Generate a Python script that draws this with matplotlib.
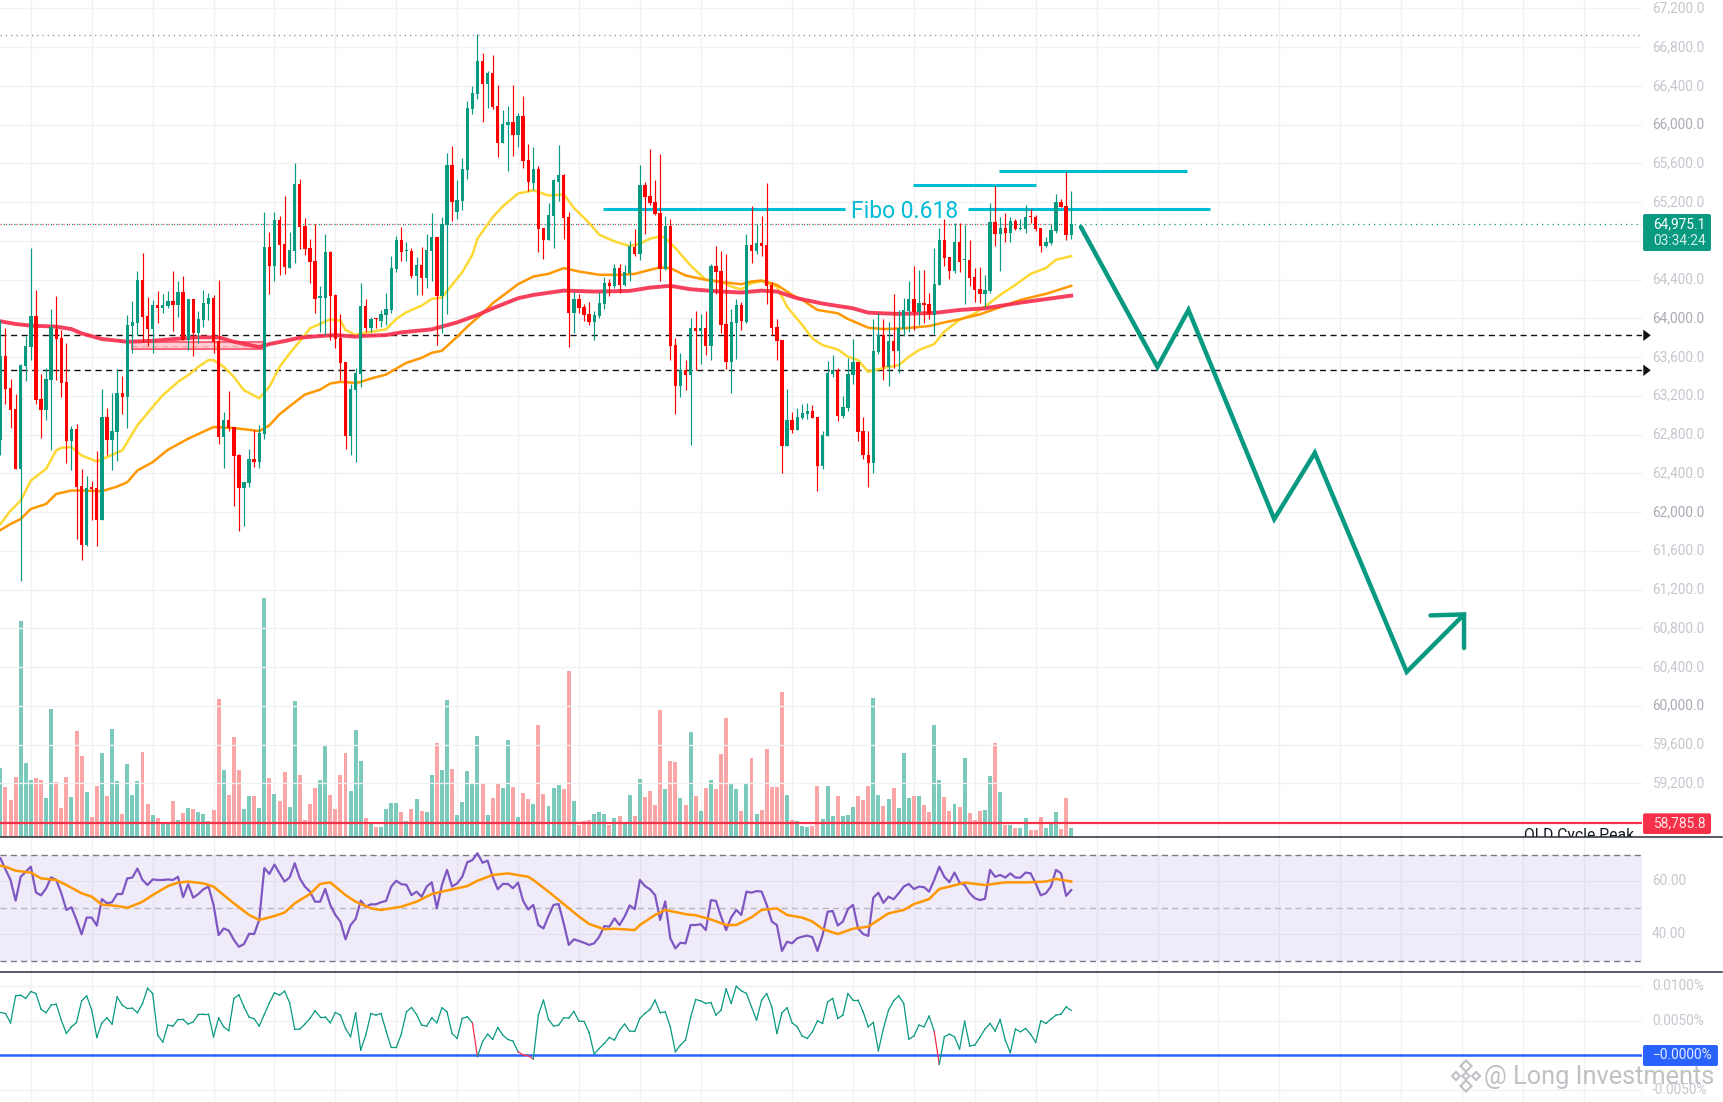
import matplotlib
matplotlib.use("Agg")
import matplotlib.pyplot as plt
from matplotlib.patches import Rectangle, Polygon, FancyBboxPatch
from matplotlib.transforms import ScaledTranslation

plt.rcParams['font.family'] = ['Roboto', 'DejaVu Sans']

# ---- candles: open, high, low, close ----
opens = [62746,63610,63278,63061,62443,63506,63703,64024,63164,63050,63361,63889,63796,63340,62729,62853,62273,61662,62249,62253,61921,62978,62739,62826,63226,63185,63920,63955,64397,64024,63889,64138,64107,64128,64179,64138,64273,63775,64200,63848,63983,64148,64210,63765,62771,62947,62874,62584,62253,62304,62543,62512,62802,64739,64542,65018,64770,64521,64697,65391,64956,64728,64594,64214,64210,64687,64242,63796,63547,62781,63257,
63430,64127,63900,63996,63972,64034,64086,64511,64811,64690,64697,64438,64552,64418,64697,64842,64231,64967,65578,65101,65215,65526,66158,66314,66656,66417,66531,66190,65806,65993,66024,65889,66086,65630,65392,65537,64936,64811,65060,65412,65475,65050,64055,64200,64117,64045,63962,64024,64148,64366,64335,64521,64345,64469,64739,64666,65381,65267,65205,65091,64511,64956,63723,63298,63464,63412,63900,63868,63900,63713,64542,
64490,63944,63547,63951,64138,63962,64760,64697,64780,64760,64345,63910,63775,62677,62946,62843,62967,63008,63040,62977,62480,62780,63423,63464,62988,63071,63413,63547,62832,62594,62511,63651,63827,63495,63765,63661,63889,64076,64200,64065,64159,64148,64034,64345,64811,64635,64490,64791,64597,64604,64428,64304,64252,64283,64998,64874,64936,64884,65008,64925,64925,65050,65050,64936,64749,64780,64905,65205,65164,64863]
highs = [63983,63900,63371,63223,63527,63817,64725,64293,63423,63482,64097,64228,63879,63748,62884,62912,62446,62377,62325,62626,63275,63071,63230,63475,63402,64034,64179,64490,64677,64224,64190,64283,64252,64283,64490,64387,64438,64200,64200,64076,64293,64259,64242,64397,63030,63247,62878,62601,62315,62646,62843,62895,65101,64894,65101,65053,65267,64894,65599,65443,65039,64822,64977,64335,64873,64697,64252,64045,63547,63320,63492,
64362,64197,64017,64007,64086,64259,64646,64853,64946,64791,64725,64635,64739,64874,65091,64842,65050,65709,65775,65423,65651,66241,66397,66936,66739,66552,66718,66407,66148,66190,66407,66117,66293,65796,65765,65568,64936,65195,65433,65785,65485,65101,64273,64252,64148,64169,64076,64273,64428,64407,64563,64563,64552,64801,64925,65578,65412,65744,65423,65692,65060,65029,63796,63640,63568,64003,64076,64045,64076,64563,64749,
64697,64666,64096,64200,64169,64874,65164,64977,65060,65392,64376,63993,63775,63267,63029,63071,63112,63122,63102,62977,62832,63558,63620,63485,63195,63589,63786,63547,62977,62832,63993,64055,63993,63962,64252,64086,64210,64387,64542,64500,64500,64262,64729,64936,65029,64635,64988,64988,64967,64811,64521,64532,64449,65195,65361,65050,65091,65050,65029,65029,65174,65133,65070,64936,64843,64977,65288,65236,65506,65309]
lows = [62584,63116,62867,62443,61286,63354,63568,63119,62764,62947,62636,63364,63188,62505,62429,61717,61507,61652,61918,61652,61921,62584,62429,62532,63016,62867,63637,63827,63758,63713,63644,63948,64059,64110,63872,64017,63775,63672,63610,63748,63914,63983,63644,62698,62453,62833,62066,61800,61852,62256,62470,62456,62750,64252,64387,64449,64459,64521,64570,64718,64656,64366,64055,63858,63824,63775,63689,63361,62646,62594,62512,
63292,63858,63858,63900,63910,63931,64058,64483,64594,64594,64418,64241,64241,64314,64387,63723,63844,64045,65008,65029,65122,65443,66107,66262,66024,66169,66158,65661,65806,65516,65671,65765,65547,65309,65329,64687,64615,64811,64728,65215,64822,63703,63848,64051,63972,63931,63775,64003,64100,64231,64317,64262,64335,64387,64646,64604,64874,65174,65070,64387,64500,63568,63008,63185,63257,62697,63464,63527,63620,63568,64252,
63851,63475,63226,63578,63879,63951,64573,64666,64646,64148,63827,63568,62407,62677,62812,62843,62957,62957,62967,62221,62449,62780,63392,62936,62967,63040,63319,62729,62552,62262,62407,63630,63361,63299,63485,63433,63817,63858,63879,63931,63951,63993,63837,64345,64542,64407,64469,64480,64148,64335,64169,64159,64117,64262,64749,64490,64791,64791,64915,64915,64884,64988,64905,64687,64739,64760,64884,65153,64811,64822]
closes = [63610,63271,63054,62443,63516,63713,64024,63154,63050,63371,63914,63789,63333,62729,62853,62263,61662,62253,62242,61921,62978,62739,62833,63226,63185,63931,63958,64397,64014,63889,64138,64107,64138,64179,64138,64273,63775,64200,63844,63993,64159,64210,63751,62771,62947,62864,62574,62253,62315,62543,62512,62812,64739,64542,65018,64759,64525,64708,65391,64946,64718,64583,64200,64221,64687,64231,63786,63537,62781,63268,63434,
64127,63900,63993,63989,64045,64096,64521,64811,64687,64697,64438,64552,64418,64708,64842,64231,64977,65578,65205,65226,65537,66169,66324,66656,66417,66531,66179,65806,66003,66024,65889,66086,65620,65402,65537,64925,64811,65070,65423,65475,65039,64055,64200,64107,64034,63962,64034,64158,64366,64335,64521,64345,64480,64749,64666,65381,65257,65195,65081,64511,64956,63713,63298,63464,63412,63900,63868,63900,63713,64542,64480,
63934,63547,63962,64138,63972,64760,64697,64780,64749,64335,63900,63765,62677,62946,62843,62977,63019,63040,62967,62480,62791,63433,63464,62988,63081,63423,63547,62822,62584,62511,63661,63827,63495,63765,63661,63900,64086,64200,64065,64159,64138,64045,64355,64811,64625,64490,64791,64583,64604,64418,64293,64252,64293,64998,64874,64936,64884,65008,64925,64936,65050,65043,64925,64749,64791,64915,65205,65153,64863,64977]
# ---- volume (relative units) ----
volume = [69,50,37,60,216,74,57,59,57,39,128,55,29,60,40,106,81,45,20,51,84,41,108,56,23,73,42,56,85,33,22,19,13,13,36,17,24,29,28,25,23,16,27,138,67,42,100,67,28,41,41,29,239,59,43,36,65,30,136,62,17,33,49,57,92,42,28,62,84,46,107,76,19,13,10,10,28,34,34,25,16,28,38,26,25,62,94,67,137,68,22,35,66,54,101,54,22,39,54,49,97,50,20,44,38,33,112,
43,31,49,52,48,166,36,12,16,17,23,25,23,12,19,21,14,42,21,58,40,46,32,127,48,76,75,39,32,105,41,26,49,57,48,83,119,53,48,26,53,79,23,27,88,50,50,145,42,17,16,11,10,11,51,18,51,21,41,21,22,30,41,37,51,139,42,31,38,49,29,84,39,41,41,32,25,112,57,40,26,33,30,79,24,17,26,27,61,94,45,12,12,9,9,19,7,7,20,9,14,25,8,39,9]
# ---- moving averages: candle index and value ----
yellow_idx = [0,2,4,6,9,11,12,14,16,19,21,24,27,30,32,35,37,39,41,42,44,46,48,51,53,55,57,60,61,62,65,67,68,70,71,73,76,78,80,83,85,87,91,93,94,97,99,102,104,105,108,111,113,116,118,121,124,126,128,130,131,133,136,139,142,144,146,148,150,153,155,158,160,162,165,167,169,171,174,177,179,181,184,186,189,192,194,197,200,203,206,208,211]
yellow_val = [61876,62014,62118,62325,62446,62636,62664,62670,62584,62522,62567,62636,62895,63085,63206,63344,63413,63499,63568,63568,63499,63395,63257,63175,63292,63499,63637,63827,63896,63920,63989,63976,63879,63827,63844,63860,63886,63993,64062,64131,64200,64214,64476,64656,64822,65043,65157,65288,65309,65323,65267,65281,65140,64985,64863,64794,64746,64770,64822,64846,64829,64725,64545,64397,64380,64328,64300,64362,64383,64328,64120,63931,63792,63723,63678,63603,63568,63447,63488,63516,63603,63672,63734,63862,63983,64052,64120,64241,64345,64459,64518,64604,64642]
orange_idx = [0,2,4,6,9,11,14,16,20,23,25,27,30,33,37,42,46,51,53,55,57,60,63,65,67,70,71,73,76,78,80,83,85,87,90,92,95,97,102,105,108,111,114,118,122,125,128,130,132,135,139,143,146,148,150,153,156,158,161,165,167,171,174,178,183,186,189,193,197,201,206,211]
orange_val = [61814,61876,61928,62032,62083,62187,62222,62222,62215,62263,62308,62429,62515,62643,62757,62878,62867,62836,62895,63009,63092,63213,63264,63327,63344,63333,63343,63378,63419,63481,63540,63592,63644,63665,63810,63913,64051,64155,64352,64431,64459,64518,64483,64449,64449,64459,64500,64525,64518,64442,64397,64369,64352,64380,64390,64345,64241,64190,64086,64052,63993,63903,63889,63896,63920,63958,63990,64041,64114,64190,64252,64335]
red_idx = [0,3,6,11,14,16,20,25,30,35,39,43,46,51,53,56,59,63,66,70,71,76,79,85,90,94,97,102,105,111,117,124,128,132,136,142,146,150,153,157,162,168,171,177,184,189,194,201,211]
red_val = [63969,63941,63924,63914,63889,63844,63786,63758,63768,63789,63803,63803,63758,63703,63734,63765,63800,63817,63827,63810,63817,63827,63855,63886,63958,64034,64103,64207,64241,64286,64276,64283,64317,64335,64300,64276,64266,64286,64276,64207,64152,64103,64058,64045,64055,64086,64103,64162,64234]
# ---- RSI ----
rsi = [68.7,64.5,60.5,52.7,61.7,63.6,65.5,55.8,54.7,57.3,61.5,60.5,55.5,49.2,50.2,45.4,40.0,46.3,46.3,43.3,53.3,51.7,52.1,55.2,55.2,61.1,61.4,64.8,60.5,58.6,60.7,60.5,60.5,60.7,60.5,61.7,54.0,58.9,53.8,55.2,57.0,58.0,51.1,39.7,42.2,41.4,37.9,35.3,36.3,40.2,40.1,45.4,65.0,62.8,66.3,63.0,59.9,61.5,66.8,61.1,58.0,56.1,52.3,52.3,57.1,51.1,47.3,44.8,38.1,43.5,45.8,52.7,50.4,51.3,51.3,52.1,52.6,58.0,60.2,58.9,58.7,54.8,56.1,54.2,58.0,59.6,49.8,58.6,64.3,58.0,59.2,61.7,67.2,68.0,70.6,67.0,67.8,61.7,57.0,59.0,59.0,57.4,59.5,52.6,49.4,51.1,43.5,
42.2,46.9,51.1,51.4,44.1,36.0,38.1,37.5,36.8,36.0,36.6,39.1,43.1,42.9,46.0,43.5,46.7,50.9,49.5,60.5,58.2,57.0,54.8,45.4,52.4,38.5,34.7,36.8,36.6,43.5,43.5,43.8,41.6,52.9,52.6,46.7,41.6,46.4,49.2,47.3,56.1,55.7,56.3,56.1,51.1,44.8,43.5,33.7,37.2,36.6,38.5,39.1,39.5,38.9,33.7,39.7,48.5,48.8,43.3,44.8,49.5,51.1,42.2,40.1,39.4,53.8,55.7,51.9,54.2,53.2,55.5,58.0,59.0,57.1,58.0,57.8,56.1,60.5,65.5,61.7,59.7,63.3,59.5,58.6,55.5,53.6,52.9,53.4,64.3,61.7,62.4,61.4,63.0,61.4,61.4,63.3,63.0,59.2,54.7,55.5,58.0,64.3,63.0,54.5,56.7]
rsi_ma_idx = [0,1,3,6,8,11,13,16,18,20,23,25,26,28,30,33,35,37,40,42,44,46,49,51,54,56,58,61,63,65,68,70,73,75,79,82,85,87,92,94,97,100,104,105,108,111,114,116,119,121,125,126,129,131,135,137,140,143,145,148,150,153,155,158,160,162,165,168,171,175,178,180,183,185,187,190,194,198,202,206,208,211]
rsi_ma_val = [65.9,65.5,64.0,63.3,61.1,60.5,58.6,55.5,54.2,51.2,50.7,50.0,50.7,52.3,54.8,58.2,59.5,59.9,59.2,58.0,54.8,51.7,47.3,45.4,46.9,48.2,51.7,55.2,59.0,59.6,54.8,52.3,49.8,49.2,50.4,52.3,55.2,56.1,58.2,60.2,62.4,63.0,61.7,60.5,56.1,51.4,46.7,43.9,41.9,42.1,41.6,43.5,47.3,49.2,47.6,47.2,45.6,43.5,43.5,46.4,49.2,49.8,47.3,46.3,44.8,42.0,40.1,42.1,42.9,47.9,49.2,51.4,53.3,57.1,58.0,59.5,58.6,59.6,59.6,59.9,60.9,59.9]
# ---- funding rate, in 1e-5 percent ----
funding = [617,602,467,857,867,819,920,891,665,612,723,737,506,313,409,472,785,857,650,255,467,540,448,843,723,674,679,612,747,968,891,289,188,434,419,515,515,448,482,588,592,592,265,540,409,352,819,872,698,549,525,419,588,756,901,867,925,756,371,376,448,530,641,554,554,467,617,578,385,265,612,72,289,602,578,602,347,111,111,303,626,689,588,434,419,540,467,684,626,313,241,530,554,467,-24,193,303,226,400,289,226,202,48,0,-10,-58,578,
795,515,419,434,540,535,631,491,487,328,14,96,169,255,217,361,448,347,342,530,602,660,795,612,626,409,48,145,217,544,804,785,747,761,578,650,959,747,997,930,891,698,506,795,891,698,313,612,684,467,409,275,241,337,496,458,771,819,530,578,891,795,795,626,409,472,63,385,650,785,857,747,231,275,434,409,564,347,-135,265,303,265,87,491,130,145,255,376,458,347,515,217,34,376,337,385,303,183,496,458,520,578,592,698,645]

assert len(opens) == len(highs) == len(lows) == len(closes) == len(volume) == len(rsi) == len(funding) == 212

# ---- levels and tick labels ----
last_price = 64975.1
ath_level = 66925
support_levels = [63824, 63463]
old_peak = 58785.8
fibo_level = 65129
swing_high_1 = 65371
swing_high_2 = 65523
zone_low, zone_high = 63679, 63758
price_ticks = list(range(59200, 67201, 400))
strong_ticks = [66000, 64000, 62000, 60000]
grid_idx = [6,18,30,42,54,66,78,90,102,114,126,138,156,168,180,192,204,216,228,240,252,264,276,288,300,312]
proj_idx = [212.9, 228.0, 234.1, 251.0, 259.0, 277.1, 288.4]
proj_val = [64943, 63498, 64086, 61927, 62611, 60350, 60943]
head_idx = [281.8, 288.4, 288.4]
head_val = [60933, 60943, 60597]

W, H = 1724, 1102
PANE_R = 1642.0
SEP1, SEP2 = 837.3, 972.3
DX, X0 = 5.075, 0.4
PRICE_PER_PX = 10.323
GREEN, RED = '#089981', '#ff0000'
GRID = '#f0f1f3'
CYAN = '#00bcd4'
TICK = '#c5c7ce'
LABEL_FS = 9.9

fig = plt.figure(figsize=(W / 100, H / 100), dpi=100, facecolor='white')
xlim = ((0 - X0) / DX, (PANE_R - X0) / DX)
label_shift = ScaledTranslation(0, 1.5 / 100, fig.dpi_scale_trans)


def pane(top, bottom, z):
    ax = fig.add_axes([0, 1 - bottom / H, PANE_R / W, (bottom - top) / H], zorder=z)
    ax.set_xlim(*xlim)
    ax.set_xticks(grid_idx)
    ax.tick_params(axis='x', length=0, labelbottom=False)
    ax.tick_params(axis='y', length=0, right=False, left=False, labelleft=False, labelright=True,
                   pad=7.2, labelsize=LABEL_FS)
    for s in ax.spines.values():
        s.set_visible(False)
    ax.grid(True, color=GRID, lw=0.95, zorder=0)
    ax.set_axisbelow(True)
    return ax


def shift_labels(a):
    for lab in a.get_yticklabels():
        lab.set_transform(lab.get_transform() + label_shift)


idx = list(range(212))
is_up = [c >= o for o, c in zip(opens, closes)]

# volume pane (underlay)
ax_v = pane(0, SEP1, 1)
ax_v.set_ylim(0, SEP1)
ax_v.grid(False)
ax_v.tick_params(axis='y', labelright=False)
ax_v.set_yticks([])
for g in grid_idx:
    ax_v.axvline(g, color=GRID, lw=0.95, zorder=0)
ax_v.bar(idx, volume, width=0.78, color=['#7bcabb' if u else '#fba6a6' for u in is_up], linewidth=0, zorder=2)

# price pane
ax = pane(0, SEP1, 2)
ax.patch.set_alpha(0)
ax.set_ylim(64000 - (SEP1 - 318.3) * PRICE_PER_PX, 64000 + 318.3 * PRICE_PER_PX)
ax.set_yticks(price_ticks)
ax.set_yticklabels([f'{t:,.1f}' for t in price_ticks])
ax.grid(axis='x', visible=False)
for lab, t in zip(ax.get_yticklabels(), price_ticks):
    lab.set_color('#a9abb5' if t in strong_ticks else TICK)
shift_labels(ax)

ax.axhline(ath_level, color='#8a8d96', lw=0.9, ls=(0, (1, 3.2)), zorder=3)
ax.plot([xlim[0], 211], [last_price] * 2, color='#f04a4a', lw=0.9, ls=(0, (1, 3.2)), zorder=3)
ax.axhline(last_price, color=GREEN, lw=0.9, ls=(1.6, (1, 3.2)), zorder=3)
ax.axhline(old_peak, color='#f7304a', lw=1.6, zorder=3)
for lv in support_levels:
    ax.axhline(lv, color='#111111', lw=1.0, ls=(0, (4.4, 3.2)), zorder=4)

# pink zone
ax.add_patch(Rectangle((25.9, zone_low), 25.9, zone_high - zone_low, facecolor='#f7525f', alpha=0.28,
                       edgecolor='none', zorder=4))
ax.add_patch(Rectangle((25.9, zone_low), 25.9, zone_high - zone_low, facecolor='none', edgecolor='#fb6a7c',
                       lw=1.5, zorder=4))
ax.plot([25.9, 51.8], [(zone_low + zone_high) / 2] * 2, color='#f9a0a8', lw=0.8, ls=(0, (5, 4)), zorder=4)

# moving averages
ax.plot(yellow_idx, yellow_val, color='#fdd835', lw=1.8, zorder=5, solid_joinstyle='round')
ax.plot(orange_idx, orange_val, color='#ff9800', lw=1.8, zorder=5)
ax.plot(red_idx, red_val, color='#f7304f', lw=2.8, alpha=0.92, zorder=5)

# fibonacci / swing lines
ax.plot([118.8, 166.5], [fibo_level] * 2, color=CYAN, lw=2.2, zorder=6, solid_capstyle='butt')
ax.plot([190.6, 238.3], [fibo_level] * 2, color=CYAN, lw=2.2, zorder=6, solid_capstyle='butt')
ax.plot([179.8, 204.0], [swing_high_1] * 2, color=CYAN, lw=2.2, zorder=6, solid_capstyle='butt')
ax.plot([196.8, 233.9], [swing_high_2] * 2, color=CYAN, lw=2.2, zorder=6, solid_capstyle='butt')
ax.text(178.1, fibo_level, 'Fibo 0.618', color=CYAN, fontsize=16.5, ha='center', va='center_baseline', zorder=6)

# candles
cols = [GREEN if u else RED for u in is_up]
ax.vlines(idx, lows, highs, colors=cols, lw=0.85, zorder=7)
ax.bar(idx, [max(abs(c - o), 12) for o, c in zip(opens, closes)], bottom=[min(o, c) for o, c in zip(opens, closes)],
       width=0.66, color=cols, linewidth=0, zorder=8)

# projection path
ax.plot(proj_idx, proj_val, color=GREEN, lw=3.2, solid_joinstyle='miter', solid_capstyle='round', zorder=9)
ax.plot(head_idx, head_val, color=GREEN, lw=3.2, solid_joinstyle='miter', solid_capstyle='round', zorder=9)
ax.text(300.3, 58735, 'OLD Cycle Peak', color='#131722', fontsize=11.3, va='top', ha='left', clip_on=True, zorder=9)

# RSI pane
ax_r = pane(SEP1, SEP2, 2)
ax_r.set_ylim(60 - (SEP2 - 881.3) / 2.65, 60 + (881.3 - SEP1) / 2.65)
ax_r.set_yticks([60, 40])
ax_r.set_yticklabels(['60.00', '40.00'], color=TICK)
shift_labels(ax_r)
ax_r.axhspan(30, 70, color='#7e57c2', alpha=0.115, lw=0, zorder=1)
ax_r.axhline(70, color='#787b86', lw=1.0, ls=(0, (4.4, 3)), zorder=2)
ax_r.axhline(50, color='#b7b7c0', lw=1.0, ls=(0, (4.4, 3)), zorder=2)
ax_r.axhline(30, color='#787b86', lw=1.0, ls=(0, (4.4, 3)), zorder=2)
ax_r.plot(idx, rsi, color='#7e57c2', lw=1.6, zorder=3)
ax_r.plot(rsi_ma_idx, rsi_ma_val, color='#ff9800', lw=1.8, zorder=4)

# funding pane
ax_f = pane(SEP2, H, 2)
ax_f.set_ylim(-(H - 1055) / 6920, 0.01 + (986 - SEP2) / 6920)
ax_f.set_yticks([0.01, 0.005, -0.005])
ax_f.set_yticklabels(['0.0100%', '0.0050%', '-0.0050%'], color=TICK)
shift_labels(ax_f)
ax_f.axhline(0, color='#2962ff', lw=1.8, zorder=2)
fund = [v / 1e5 for v in funding]
for i in range(211):
    ax_f.plot(idx[i:i + 2], fund[i:i + 2], color='#f7304a' if fund[i + 1] <= 0 else GREEN, lw=0.9, zorder=3)

# overlay in pixel coordinates: separators, price tags, watermark
ov = fig.add_axes([0, 0, 1, 1], zorder=10)
ov.set_xlim(0, W)
ov.set_ylim(H, 0)
ov.axis('off')
for y in (SEP1, SEP2):
    ov.plot([0, W - 2], [y, y], color='#2a2e39', lw=1.1)
for y in (335.3, 370.3):
    ov.add_patch(Polygon([(1643.3, y - 5.7), (1650.8, y), (1643.3, y + 5.7)], closed=True, color='#111111', lw=0))


def tag(x0, x1, y0, y1, color):
    ov.add_patch(FancyBboxPatch((x0 + 1, y0 + 1), x1 - x0 - 2, y1 - y0 - 2, boxstyle='round,pad=0,rounding_size=1',
                                mutation_aspect=1, facecolor=color, edgecolor=color, lw=1.4))


tag(1643, 1711, 214, 251, GREEN)
ov.text(1653.3, 224.3, '64,975.1', color='white', fontsize=LABEL_FS, va='center')
ov.text(1653.3, 240.6, '03:34:24', color='#d5efea', fontsize=LABEL_FS, va='center')
tag(1643, 1711, 813.3, 834, '#f7304a')
ov.text(1653.3, 823.6, '58,785.8', color='#ffe3e6', fontsize=LABEL_FS, va='center')
tag(1643, 1718, 1045, 1066, '#2962ff')
ov.text(1653.3, 1055.3, '\u22120.0000%', color='#e3ebff', fontsize=LABEL_FS, va='center')

# watermark
wm = '#b4b6bb'
ov.text(1484, 1077, '@ Long Investments', color=wm, fontsize=18.3, va='center', ha='left', alpha=0.85)
for cx, cy, r in [(1466, 1066, 5.5), (1466, 1086, 5.5), (1456, 1076, 4.0), (1476, 1076, 4.0), (1466, 1076, 3.5)]:
    ov.add_patch(Polygon([(cx - r, cy), (cx, cy - r), (cx + r, cy), (cx, cy + r)], closed=True,
                         facecolor='none', edgecolor=wm, lw=1.5, alpha=0.85))

fig.savefig('out.png', dpi=100, facecolor='white')
